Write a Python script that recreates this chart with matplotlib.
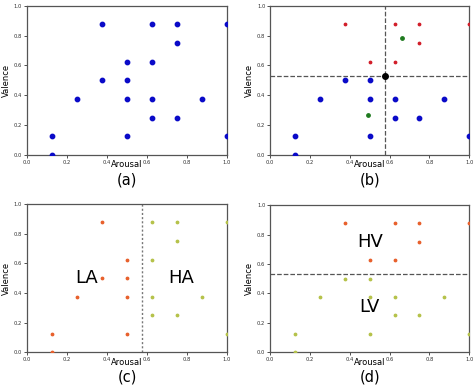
import numpy as np
import matplotlib.pyplot as plt

# data points (arousal, valence)
arousal = [0.125, 0.125, 0.25, 0.375, 0.375, 0.5, 0.5, 0.5, 0.5, 0.625,
           0.625, 0.625, 0.625, 0.75, 0.75, 0.75, 0.875, 1.0, 1.0]
valence = [0.0, 0.125, 0.375, 0.5, 0.875, 0.125, 0.375, 0.5, 0.625, 0.25,
           0.375, 0.625, 0.875, 0.25, 0.75, 0.875, 0.375, 0.125, 0.875]

# cluster centres in (b)
centre_a, centre_v = 0.575, 0.53
green_a = [0.66, 0.49]
green_v = [0.785, 0.265]

ticks = [0.0, 0.2, 0.4, 0.6, 0.8, 1.0]
panel_names = ['(a)', '(b)', '(c)', '(d)']

BLUE = '#0a0ac8'
RED = '#d21e2a'
ORANGE = '#e8602c'
OLIVE = '#b5c24a'
GREEN = '#1f7a1f'

arousal = np.array(arousal)
valence = np.array(valence)
high_v = valence > centre_v
high_a = arousal > centre_a

fig = plt.figure(figsize=(4.74, 3.87), dpi=100)
rects = [[0.057, 0.600, 0.422, 0.385],
         [0.570, 0.600, 0.420, 0.385],
         [0.057, 0.090, 0.422, 0.383],
         [0.570, 0.090, 0.420, 0.380]]
axes = [fig.add_axes(r) for r in rects]

for ax, name in zip(axes, panel_names):
    ax.set_xlim(0, 1)
    ax.set_ylim(0, 1)
    ax.set_xticks(ticks)
    ax.set_yticks(ticks)
    ax.set_xticklabels([f'{t:.1f}' for t in ticks])
    ax.set_yticklabels([f'{t:.1f}' for t in ticks])
    ax.tick_params(labelsize=3.8, length=2, width=0.6, pad=1.5, colors='#333333')
    for s in ax.spines.values():
        s.set_linewidth(0.9)
        s.set_color('#555555')
    ax.set_xlabel('Arousal', fontsize=6, labelpad=-3)
    ax.set_ylabel('Valence', fontsize=6, labelpad=2)
    ax.text(0.5, -0.12, name, transform=ax.transAxes, ha='center', va='top',
            fontsize=10.5)

# (a)
axes[0].scatter(arousal, valence, s=10, color=BLUE, zorder=3)

# (b)
ax = axes[1]
ax.scatter(arousal[~high_v], valence[~high_v], s=10, color=BLUE, zorder=3)
ax.scatter(arousal[high_v], valence[high_v], s=3, color=RED, zorder=3)
ax.scatter(green_a, green_v, s=6, color=GREEN, zorder=3)
ax.scatter([centre_a], [centre_v], s=16, color='black', zorder=4)
ax.axvline(centre_a, color='#555555', ls='--', lw=0.9)
ax.axhline(centre_v, color='#555555', ls='--', lw=0.9)

# (c)
ax = axes[2]
ax.scatter(arousal[~high_a], valence[~high_a], s=3, color=ORANGE, zorder=3)
ax.scatter(arousal[high_a], valence[high_a], s=3, color=OLIVE, zorder=3)
ax.axvline(centre_a, color='#777777', ls=(0, (1.5, 1.5)), lw=1.0)
ax.text(0.30, 0.5, 'LA', fontsize=13, ha='center', va='center')
ax.text(0.77, 0.5, 'HA', fontsize=13, ha='center', va='center')

# (d)
ax = axes[3]
ax.scatter(arousal[high_v], valence[high_v], s=3, color=ORANGE, zorder=3)
ax.scatter(arousal[~high_v], valence[~high_v], s=3, color=OLIVE, zorder=3)
ax.axhline(centre_v, color='#555555', ls='--', lw=0.9)
ax.text(0.50, 0.75, 'HV', fontsize=13, ha='center', va='center')
ax.text(0.50, 0.31, 'LV', fontsize=13, ha='center', va='center')

fig.savefig('out.png', dpi=100)
